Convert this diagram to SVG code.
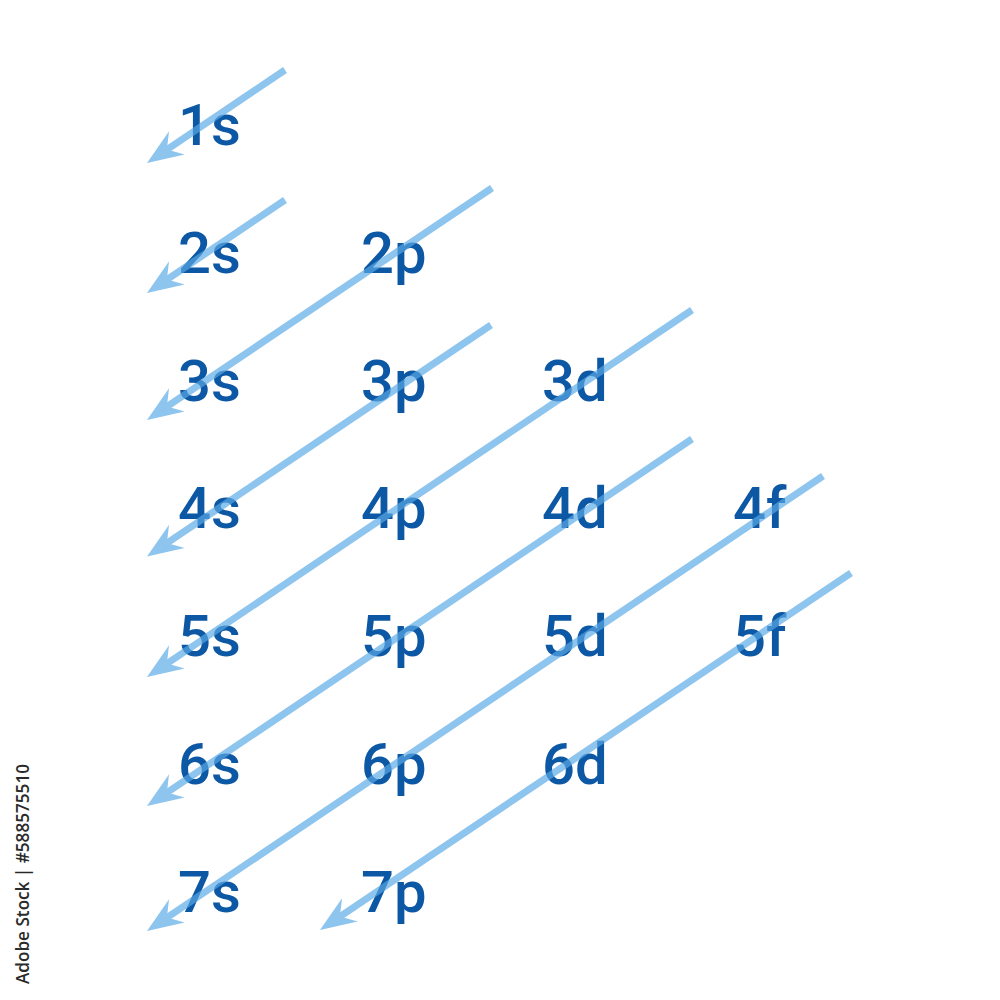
<svg xmlns="http://www.w3.org/2000/svg" width="1000" height="1000" viewBox="0 0 1000 1000">
  <style>
    .lbl { font-family: Roboto, "Liberation Sans", sans-serif; font-weight: 500; font-size: 58px; fill: #0d58a5; }
    .arr { fill: none; stroke: #5aaae6; stroke-width: 7; stroke-linecap: butt; marker-end: url(#head); }
    .wm { font-family: "Open Sans", "Liberation Sans", sans-serif; font-weight: 600; font-size: 18px; fill: #2a2a2a; }
  </style>
  <defs>
    <marker id="head" markerUnits="userSpaceOnUse" orient="auto" refX="0" refY="0" markerWidth="60" markerHeight="60" viewBox="-15 -30 60 60" overflow="visible">
      <path d="M24,0 L-12,-14 L0,0 L-12,14 Z" fill="#5aaae6"/>
    </marker>
  </defs>
  <rect width="1000" height="1000" fill="#ffffff"/>

  <g id="n1s"><text class="lbl" x="178" y="145">1s</text></g>
  <g id="n2s"><text class="lbl" x="178" y="273">2s</text></g>
  <g id="n2p"><text class="lbl" x="361" y="273">2p</text></g>
  <g id="n3s"><text class="lbl" x="178" y="401">3s</text></g>
  <g id="n3p"><text class="lbl" x="361" y="401">3p</text></g>
  <g id="n3d"><text class="lbl" x="542" y="401">3d</text></g>
  <g id="n4s"><text class="lbl" x="178" y="528">4s</text></g>
  <g id="n4p"><text class="lbl" x="361" y="528">4p</text></g>
  <g id="n4d"><text class="lbl" x="542" y="528">4d</text></g>
  <g id="n4f"><text class="lbl" x="733" y="528">4f</text></g>
  <g id="n5s"><text class="lbl" x="178" y="656">5s</text></g>
  <g id="n5p"><text class="lbl" x="361" y="656">5p</text></g>
  <g id="n5d"><text class="lbl" x="542" y="656">5d</text></g>
  <g id="n5f"><text class="lbl" x="733" y="656">5f</text></g>
  <g id="n6s"><text class="lbl" x="178" y="784">6s</text></g>
  <g id="n6p"><text class="lbl" x="361" y="784">6p</text></g>
  <g id="n6d"><text class="lbl" x="542" y="784">6d</text></g>
  <g id="n7s"><text class="lbl" x="178" y="912">7s</text></g>
  <g id="n7p"><text class="lbl" x="361" y="912">7p</text></g>

  <g id="connectors" opacity="0.68">
    <path class="arr" d="M285,70 L166.9,149.6"/>
    <path class="arr" d="M285,200 L166.9,279.6"/>
    <path class="arr" d="M492,188 L166.9,406.6"/>
    <path class="arr" d="M491,325 L166.9,543.1"/>
    <path class="arr" d="M692,310 L166.9,663.6"/>
    <path class="arr" d="M692,439 L166.9,792.6"/>
    <path class="arr" d="M823,476 L166.9,917.6"/>
    <path class="arr" d="M851,573 L339.9,916.6"/>
  </g>

  <text class="wm" transform="translate(29,984) rotate(-90)" textLength="220" lengthAdjust="spacingAndGlyphs">Adobe Stock | #588575510</text>
</svg>
